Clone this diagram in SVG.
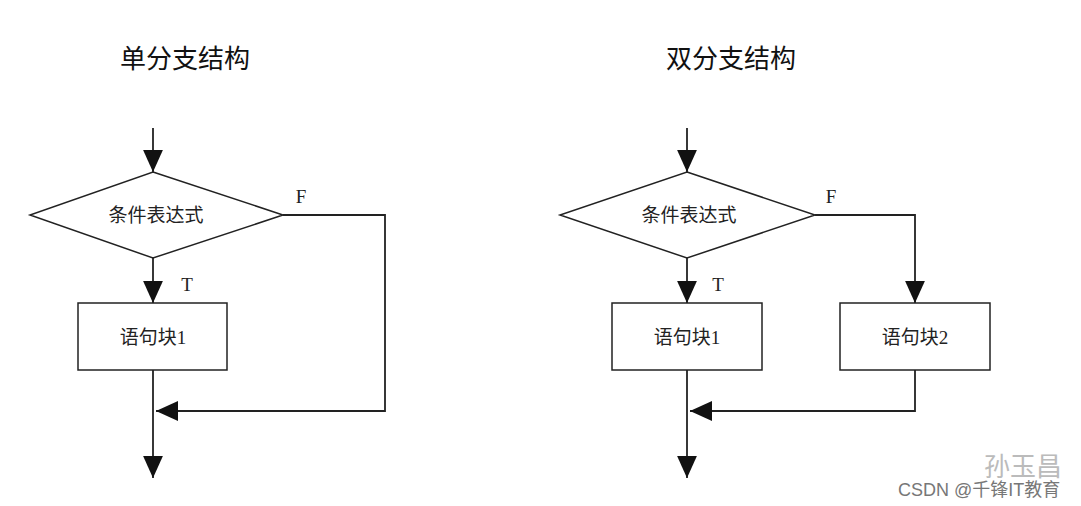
<svg xmlns="http://www.w3.org/2000/svg" width="1081" height="506" viewBox="0 0 1081 506">
<style>
.s{fill:#fff;stroke:#222;stroke-width:1.5}
.c{fill:none;stroke:#222;stroke-width:1.8}
.t{font-family:"Liberation Serif","Noto Sans CJK SC",serif;font-size:19px;fill:#222;text-anchor:middle}
.h{font-family:"Noto Sans CJK SC",sans-serif;font-size:26px;fill:#111;text-anchor:middle}
</style>
<defs>
<marker id="b" viewBox="0 0 10 10" refX="10" refY="5" markerWidth="22" markerHeight="22" markerUnits="userSpaceOnUse" orient="auto"><path d="M0,0.5L10,5L0,9.5z" fill="#111"/></marker>
</defs>
<rect width="1081" height="506" fill="#fff"/>
<text class="h" x="185" y="68">单分支结构</text>
<text class="h" x="731" y="68">双分支结构</text>
<g id="connectors">
<path class="c" d="M153,128V172" marker-end="url(#b)"/>
<path class="c" d="M153,258V303" marker-end="url(#b)"/>
<path class="c" d="M283,215H385V411H156" marker-end="url(#b)"/>
<path class="c" d="M153,370V478" marker-end="url(#b)"/>
<path class="c" d="M687,128V172" marker-end="url(#b)"/>
<path class="c" d="M687,258V303" marker-end="url(#b)"/>
<path class="c" d="M815,215H915V303" marker-end="url(#b)"/>
<path class="c" d="M915,370V411H690" marker-end="url(#b)"/>
<path class="c" d="M687,370V478" marker-end="url(#b)"/>
</g>
<g id="d1"><polygon class="s" points="153,172 283,215 153,258 30,215"/><text class="t" x="156" y="222">条件表达式</text></g>
<g id="b1"><rect class="s" x="78" y="303" width="149" height="67"/><text class="t" x="153" y="344">语句块1</text></g>
<g id="d2"><polygon class="s" points="687,172 815,215 687,258 560,215"/><text class="t" x="689" y="222">条件表达式</text></g>
<g id="b2"><rect class="s" x="612" y="303" width="150" height="67"/><text class="t" x="687" y="344">语句块1</text></g>
<g id="b3"><rect class="s" x="840" y="303" width="150" height="67"/><text class="t" x="915" y="344">语句块2</text></g>
<g id="labels">
<text class="t" x="301" y="203">F</text>
<text class="t" x="187" y="291">T</text>
<text class="t" x="831" y="203">F</text>
<text class="t" x="718" y="291">T</text>
</g>
<text x="1023" y="476" font-family="Noto Sans CJK SC,sans-serif" font-size="26" fill="#bbb" text-anchor="middle">孙玉昌</text>
<text x="898" y="496" font-family="Liberation Sans,Noto Sans CJK SC,sans-serif" font-size="18" fill="#777">CSDN @千锋IT教育</text>
</svg>
